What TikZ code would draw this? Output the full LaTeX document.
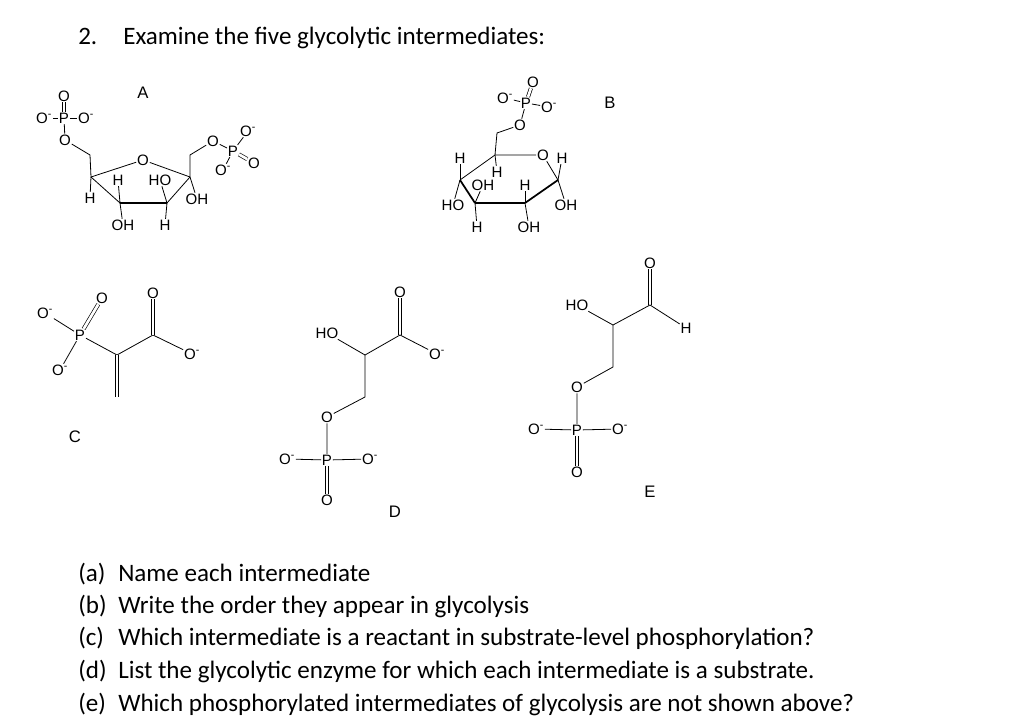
\documentclass[tikz,border=0pt]{standalone}
\usepackage{fontspec}
\setmainfont{Carlito}
\newfontfamily\chemf{Liberation Sans}
\newcommand{\Om}{O\textsuperscript{-}}
\begin{document}
\begin{tikzpicture}[x=0.75pt,y=-0.75pt,
  lab/.style={font=\chemf\fontsize{11.3}{13}\selectfont,inner sep=0.5pt},
  ttl/.style={font=\chemf\fontsize{12.5}{14}\selectfont,inner sep=0pt},
  bd/.style={line width=0.6pt},
  dbl/.style={double,double distance=2pt,line width=0.5pt},
  bold/.style={line width=2.2pt},
  txt/.style={font=\fontsize{18.8}{22}\selectfont,anchor=base west,inner sep=0pt}]
\useasboundingbox (0,0) rectangle (1024,724);
% titles
\node[txt] (n2) at (78,45) {2.};
\node[txt] (tt) at (123,45) {Examine the five glycolytic intermediates:};
% ---------- A ----------
\node[ttl] (Alab) at (143,93) {A};
\node[lab] (aO1) at (64,96) {O};
\node[lab] (aP) at (64,118) {P};
\node[lab] (aOl) at (44,118) {\Om};
\node[lab] (aOr) at (86,118) {\Om};
\node[lab] (aO2) at (65,140) {O};
\coordinate (aC6) at (90,155);
\coordinate (aC5) at (91,177);
\node[lab] (aOr1) at (143,160) {O};
\coordinate (aC2) at (190,177);
\coordinate (aC3) at (167,203);
\coordinate (aC4) at (120,203);
\node[lab] (aH5) at (90,198) {H};
\node[lab] (aH4) at (118,180) {H};
\node[lab] (aOH4) at (123,225) {OH};
\node[lab] (aHO3) at (160,180) {HO};
\node[lab] (aH3) at (165,225) {H};
\node[lab] (aOH2) at (197,199) {OH};
\coordinate (aC1) at (190,155);
\node[lab] (aO3) at (213,141) {O};
\node[lab] (aP2) at (233,151) {P};
\node[lab] (aO4) at (248,131) {\Om};
\node[lab] (aO5) at (254,163) {O};
\node[lab] (aO6) at (223,170) {\Om};
\draw[dbl] (aO1) -- (aP);
\draw[bd] (aOl) -- (aP) -- (aOr);
\draw[bd] (aP) -- (aO2) -- (aC6) -- (aC5) -- (aOr1) -- (aC2);
\draw[bd] (aC5) -- (aC4);
\draw[bold] (aC4) -- (aC3);
\draw[bd] (aC3) -- (aC2);
\draw[bd] (aC5) -- (aH5);
\draw[bd] (aC4) -- (aH4); \draw[bd] (aC4) -- (aOH4);
\draw[bd] (aC3) -- (aHO3); \draw[bd] (aC3) -- (aH3);
\draw[bd] (aC2) -- (aOH2);
\draw[bd] (aC2) -- (aC1) -- (aO3) -- (aP2);
\draw[bd] (aP2) -- (aO4); \draw[bd] (aP2) -- (aO6);
\draw[dbl] (aP2) -- (aO5);
% ---------- B ----------
\node[ttl] (Blab) at (610,103) {B};
\node[lab] (bO1) at (533,82) {O};
\node[lab] (bP) at (526,103) {P};
\node[lab] (bOl) at (505,98) {\Om};
\node[lab] (bOr) at (549,107) {\Om};
\node[lab] (bO2) at (520,125) {O};
\coordinate (bC6) at (497,133);
\coordinate (bC5) at (495,155);
\node[lab] (bOr1) at (543,155) {O};
\coordinate (bC1) at (558,180);
\coordinate (bC2) at (525,203);
\coordinate (bC3) at (475,203);
\coordinate (bC4) at (460,180);
\node[lab] (bH5) at (497,172) {H};
\node[lab] (bH1) at (562,158) {H};
\node[lab] (bOH1) at (566,205) {OH};
\node[lab] (bH2) at (525,185) {H};
\node[lab] (bOH2) at (529,227) {OH};
\node[lab] (bOH3) at (483,185) {OH};
\node[lab] (bH3) at (477,227) {H};
\node[lab] (bH4) at (460,158) {H};
\node[lab] (bHO4) at (453,205) {HO};
\draw[dbl] (bO1) -- (bP);
\draw[bd] (bOl) -- (bP) -- (bOr);
\draw[bd] (bP) -- (bO2) -- (bC6) -- (bC5) -- (bOr1) -- (bC1);
\draw[line width=1.3pt] (bC1) -- (bC2);
\draw[bold] (bC2) -- (bC3);
\draw[line width=1.3pt] (bC3) -- (bC4);
\draw[bd] (bC4) -- (bC5);
\draw[bd] (bC5) -- (bH5);
\draw[bd] (bC1) -- (bH1); \draw[bd] (bC1) -- (bOH1);
\draw[bd] (bC2) -- (bH2); \draw[bd] (bC2) -- (bOH2);
\draw[bd] (bC3) -- (bOH3); \draw[bd] (bC3) -- (bH3);
\draw[bd] (bC4) -- (bH4); \draw[bd] (bC4) -- (bHO4);
% ---------- C ----------
\node[ttl] (Clab) at (75,437) {C};
\node[lab] (cP) at (80,335) {P};
\node[lab] (cO1) at (45,313) {\Om};
\node[lab] (cO2) at (60,370) {\Om};
\node[lab] (cO3) at (102,298) {O};
\coordinate (cC2) at (117,355);
\coordinate (cC3) at (117,397);
\coordinate (cC1) at (153,335);
\node[lab] (cO4) at (153,293) {O};
\node[lab] (cO5) at (192,354) {\Om};
\draw[bd] (cO1) -- (cP) -- (cO2);
\draw[dbl] (cP) -- (cO3);
\draw[bd] (cP) -- (cC2) -- (cC1) -- (cO5);
\draw[dbl] (cC2) -- (cC3);
\draw[dbl] (cC1) -- (cO4);
% ---------- D ----------
\node[ttl] (Dlab) at (395,512) {D};
\node[lab] (dO1) at (400,292) {O};
\coordinate (dC1) at (400,335);
\node[lab] (dO2) at (437,354) {\Om};
\coordinate (dC2) at (365,355);
\node[lab] (dHO) at (327,333) {HO};
\coordinate (dC3) at (365,397);
\node[lab] (dO3) at (327,417) {O};
\node[lab] (dP) at (327,460) {P};
\node[lab] (dOl) at (287,459) {\Om};
\node[lab] (dOr) at (370,459) {\Om};
\node[lab] (dO4) at (327,500) {O};
\draw[dbl] (dO1) -- (dC1);
\draw[bd] (dC1) -- (dO2);
\draw[bd] (dC1) -- (dC2) -- (dHO);
\draw[bd] (dC2) -- (dC3) -- (dO3) -- (dP);
\draw[bd] (dOl) -- (dP) -- (dOr);
\draw[dbl] (dP) -- (dO4);
% ---------- E ----------
\node[ttl] (Elab) at (650,492) {E};
\node[lab] (eO1) at (650,263) {O};
\coordinate (eC1) at (650,305);
\node[lab] (eH) at (686,328) {H};
\coordinate (eC2) at (613,325);
\node[lab] (eHO) at (577,305) {HO};
\coordinate (eC3) at (613,367);
\node[lab] (eO3) at (577,387) {O};
\node[lab] (eP) at (577,430) {P};
\node[lab] (eOl) at (536,429) {\Om};
\node[lab] (eOr) at (620,429) {\Om};
\node[lab] (eO4) at (577,472) {O};
\draw[dbl] (eO1) -- (eC1);
\draw[bd] (eC1) -- (eH);
\draw[bd] (eC1) -- (eC2) -- (eHO);
\draw[bd] (eC2) -- (eC3) -- (eO3) -- (eP);
\draw[bd] (eOl) -- (eP) -- (eOr);
\draw[dbl] (eP) -- (eO4);
% ---------- questions ----------
\node[txt] (qa) at (78,581) {(a)};
\node[txt] (qat) at (118,581) {Name each intermediate};
\node[txt] (qb) at (78,613) {(b)};
\node[txt] (qbt) at (118,613) {Write the order they appear in glycolysis};
\node[txt] (qc) at (78,645) {(c)};
\node[txt] (qct) at (118,645) {Which intermediate is a reactant in substrate-level phosphorylation?};
\node[txt] (qd) at (78,678) {(d)};
\node[txt] (qdt) at (118,678) {List the glycolytic enzyme for which each intermediate is a substrate.};
\node[txt] (qe) at (78,711) {(e)};
\node[txt] (qet) at (118,711) {Which phosphorylated intermediates of glycolysis are not shown above?};
\end{tikzpicture}
\end{document}
